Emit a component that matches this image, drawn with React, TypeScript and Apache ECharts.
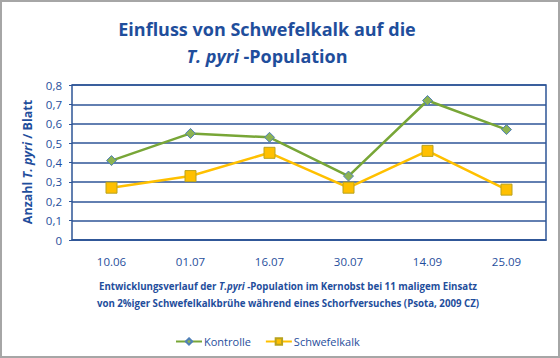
import React, { useEffect, useRef } from "react";
import * as echarts from "echarts";

const categories = ["10.06", "01.07", "16.07", "30.07", "14.09", "25.09"];
const kontrolle = [0.41, 0.55, 0.53, 0.33, 0.72, 0.57];
const schwefelkalk = [0.27, 0.33, 0.45, 0.27, 0.46, 0.26];
const yTicks = { min: 0, max: 0.8, interval: 0.1 };

const BLUE = "#1f4e9c";
const FONT = "'Open Sans', 'Noto Sans', sans-serif";

export default function App() {
  const ref = useRef<HTMLDivElement>(null);
  useEffect(() => {
    const chart = echarts.init(ref.current!, null, { renderer: "svg" });
    chart.setOption({
      animation: false,
      backgroundColor: "#ffffff",
      textStyle: { fontFamily: FONT },
      title: {
        left: 262,
        textAlign: "center",
        top: 10,
        text: "{b|Einfluss von Schwefelkalk auf die}\n{i|T. pyri}{b| -Population}",
        textStyle: {
          rich: {
            b: { fontSize: 18, fontWeight: "bold", color: BLUE, fontFamily: FONT, lineHeight: 27 },
            i: { fontSize: 18, fontWeight: "bold", fontStyle: "italic", color: BLUE, fontFamily: FONT, lineHeight: 27 },
          },
        },
      },
      graphic: [
        {
          type: "rect",
          shape: { x: 1, y: 1, width: 558, height: 356 },
          style: { fill: "none", stroke: "#a6a6a6", lineWidth: 2 },
          silent: true,
        },
        {
          type: "text",
          x: 288,
          y: 295,
          style: {
            text: "{b|Entwicklungsverlauf der }{i|T.pyri}{b| -Population im Kernobst bei 11 maligem Einsatz}\n{b|von 2%iger Schwefelkalkbrühe während eines Schorfversuches (Psota, 2009 CZ)}",
            align: "center",
            verticalAlign: "middle",
            rich: {
              b: { fontSize: 9.7, fontWeight: "bold", fill: BLUE, fontFamily: FONT, lineHeight: 17 },
              i: { fontSize: 9.7, fontWeight: "bold", fontStyle: "italic", fill: BLUE, fontFamily: FONT, lineHeight: 17 },
            },
          },
        },
        {
          type: "text",
          x: 27,
          y: 162,
          rotation: Math.PI / 2,
          style: {
            text: "{b|Anzahl }{i|T. pyri}{b| / Blatt}",
            align: "center",
            verticalAlign: "middle",
            rich: {
              b: { fontSize: 12.5, fontWeight: "bold", fill: BLUE, fontFamily: FONT },
              i: { fontSize: 12.5, fontWeight: "bold", fontStyle: "italic", fill: BLUE, fontFamily: FONT },
            },
          },
        },
      ],
      legend: {
        left: 170,
        top: 331,
        itemWidth: 26,
        itemHeight: 8,
        itemGap: 14,
        textStyle: { color: BLUE, fontSize: 11, fontFamily: FONT, padding: [0, 0, 0, -3] },
        data: ["Kontrolle", "Schwefelkalk"],
      },
      grid: {
        left: 72,
        right: 14,
        top: 85,
        bottom: 118,
        show: true,
        borderColor: "#2e5597",
        borderWidth: 1.5,
      },
      xAxis: {
        type: "category",
        data: categories,
        boundaryGap: true,
        axisLine: { lineStyle: { color: "#2e5597", width: 1.5 } },
        axisTick: { show: false },
        axisLabel: { color: BLUE, fontSize: 11.5, margin: 15, fontFamily: FONT },
      },
      yAxis: {
        type: "value",
        min: yTicks.min,
        max: yTicks.max,
        interval: yTicks.interval,
        axisLine: { show: false },
        axisTick: { show: true, length: 3, lineStyle: { color: "#2e5597" } },
        splitLine: { lineStyle: { color: "#2e5597", width: 1.5 } },
        axisLabel: {
          color: BLUE,
          fontSize: 11.5,
          margin: 10,
          fontFamily: FONT,
          formatter: (v: number) => (v === 0 ? "0" : v.toFixed(1).replace(".", ",")),
        },
      },
      series: [
        {
          name: "Kontrolle",
          type: "line",
          data: kontrolle,
          symbol: "diamond",
          symbolSize: 10,
          lineStyle: { color: "#78a637", width: 2.5 },
          itemStyle: { color: "#8cb352", borderColor: "#4f7fb8", borderWidth: 1 },
          z: 3,
        },
        {
          name: "Schwefelkalk",
          type: "line",
          data: schwefelkalk,
          symbol: "rect",
          symbolSize: 11,
          lineStyle: { color: "#ffc000", width: 2.5 },
          itemStyle: { color: "#ffc000", borderColor: "#b8a21e", borderWidth: 1 },
          z: 2,
        },
      ],
    });
    return () => chart.dispose();
  }, []);
  return <div ref={ref} style={{ width: 560, height: 358, position: "fixed", left: 0, top: 0 }} />;
}
